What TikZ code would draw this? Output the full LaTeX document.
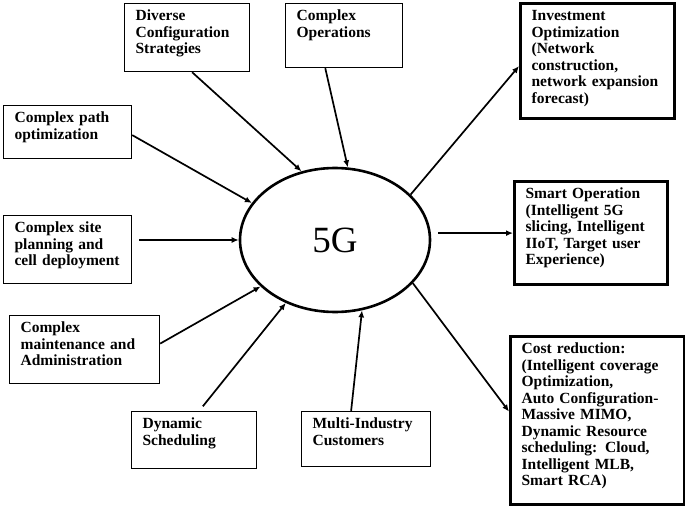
\documentclass[tikz,border=0pt]{standalone}
\usepackage{fontspec}
\setmainfont{Liberation Serif}
\usetikzlibrary{shapes.geometric,arrows.meta}

\begin{document}
\begin{tikzpicture}[x=1pt, y=-1pt,
        blk/.style 2 args={draw, line width=1.2pt, anchor=north west, align=left,
            inner xsep=11pt, inner ysep=5pt, text width=#1, text height=12pt, text depth=#2,
            font=\fontsize{15.5}{16.5}\selectfont\bfseries},
        thickblk/.style={line width=3.2pt},
        hub/.style={ellipse, draw, line width=2.6pt, minimum width=190pt, minimum height=144pt,
            inner sep=0pt, font=\fontsize{37}{40}\selectfont},
        arr/.style={-{Latex[length=7pt, width=6pt]}, line width=1.7pt}
    ]
    \useasboundingbox (0,0) rectangle (685,508);

    % ---- CENTRE ----
    \node[hub] (g5) at (335,240) {5G};

    % ---- INPUTS ----
    \node[blk={103pt}{46pt}] (divers) at (124,3) {Diverse\\Configuration\\Strategies};
    \node[blk={95pt}{42pt}] (cplxops) at (285,3) {Complex\\Operations};
    \node[blk={106pt}{31pt}] (path) at (3,105) {Complex path\\optimization};
    \node[blk={106pt}{46pt}] (site) at (3,215) {Complex site\\planning and\\cell deployment};
    \node[blk={128pt}{46pt}] (maint) at (9,315) {Complex\\maintenance and\\Administration};
    \node[blk={103pt}{35pt}] (dyn) at (131,411) {Dynamic\\Scheduling};
    \node[blk={107pt}{33pt}] (multi) at (301,411) {Multi-Industry\\Customers};

    % ---- OUTPUTS ----
    \node[blk={132pt}{93pt}, thickblk] (invest) at (519,2) {Investment\\Optimization\\(Network\\construction,\\network expansion\\forecast)};
    \node[blk={131pt}{81pt}, thickblk] (smart) at (513,180) {Smart Operation\\(Intelligent 5G\\slicing, Intelligent\\IIoT, Target user\\Experience)};
    \node[blk={152pt}{146pt}, thickblk] (cost) at (509,335) {Cost reduction:\\(Intelligent coverage\\Optimization,\\Auto Configuration-\\Massive MIMO,\\Dynamic Resource\\scheduling: Cloud,\\Intelligent MLB,\\Smart RCA)};

    % ---- ARROWS ----
    \draw[arr] ([xshift=5pt]divers.south) -- (g5.116);
    \draw[arr] (cplxops.-120) -- (g5.80);
    \draw[arr] ([yshift=-3pt]path.east) -- (g5.156);
    \draw[arr, shorten <=7pt] (site.east |- g5.west) -- (g5.west);
    \draw[arr] ([yshift=6pt]maint.east) -- (g5.212);
    \draw[arr, shorten <=6pt] ([xshift=5pt]dyn.north) -- (g5.232);
    \draw[arr] ([xshift=-15pt]multi.north) -- (g5.-69);

    \draw[arr] (g5.31) -- ([yshift=-5pt]invest.west);
    \draw[arr, shorten <=7pt] (g5.east |- smart.west) -- (smart.west);
    \draw[arr] (g5.-29) -- ([yshift=9pt]cost.west);

\end{tikzpicture}
\end{document}
